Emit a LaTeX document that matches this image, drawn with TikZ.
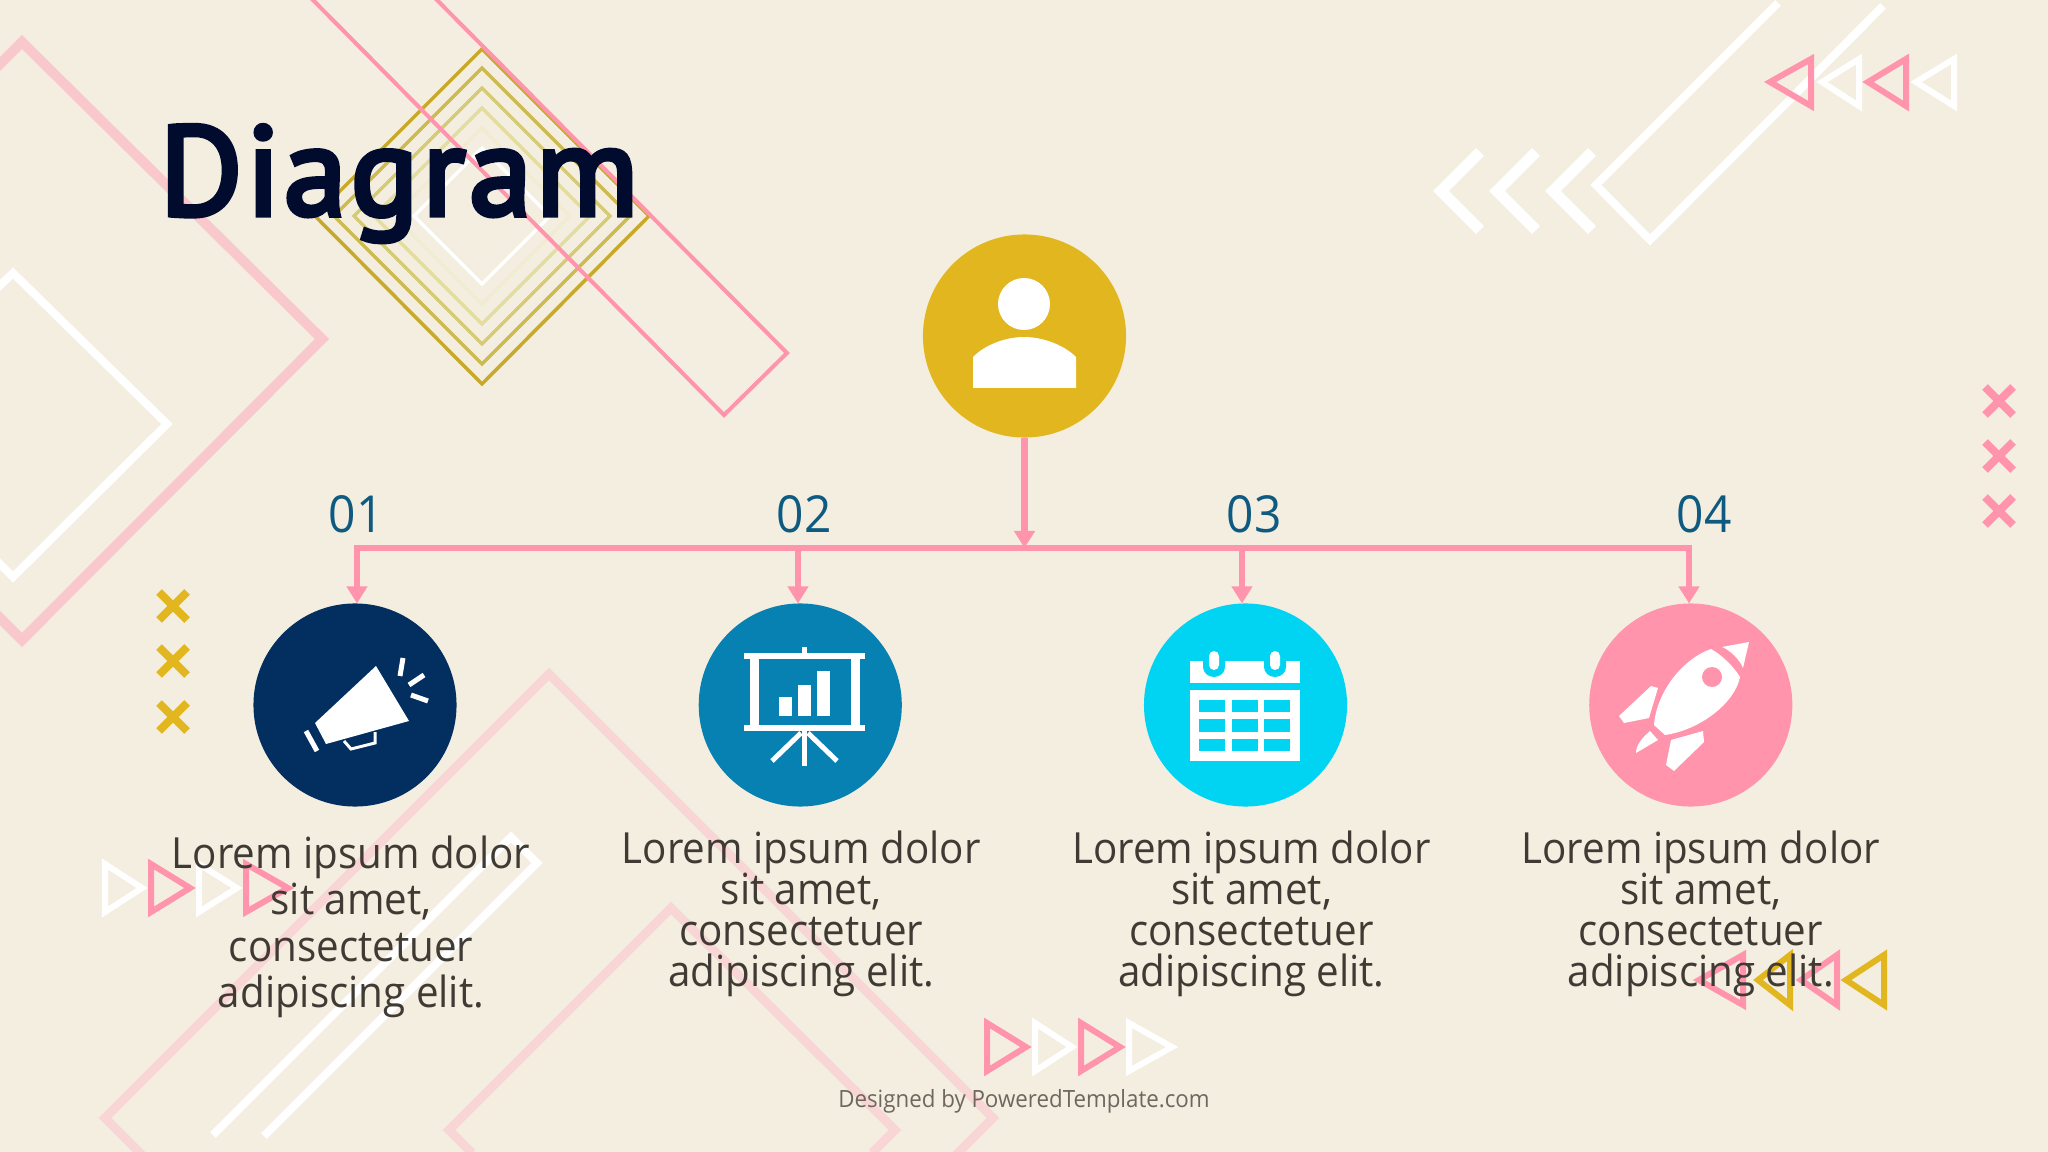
\documentclass[tikz,border=0pt]{standalone}
\usepackage{fontspec}
\setmainfont[FakeStretch=0.94]{Open Sans}
\newfontfamily\titlefont[FakeBold=4,LetterSpace=3]{PT Sans}
\usetikzlibrary{arrows.meta,positioning}
\definecolor{bgcolor}{HTML}{F4EEE0}
\definecolor{mypink}{HTML}{FF94AC}
\definecolor{softpink}{HTML}{F9C8CC}
\definecolor{palepink}{HTML}{F9D6D6}
\definecolor{mygold}{HTML}{E2B61E}
\definecolor{goldone}{HTML}{C8A92A}
\definecolor{goldtwo}{HTML}{CDBA50}
\definecolor{goldthree}{HTML}{D6CB75}
\definecolor{goldfour}{HTML}{E3DD9F}
\definecolor{goldfive}{HTML}{F0EBD2}
\definecolor{navycircle}{HTML}{022F5F}
\definecolor{bluecircle}{HTML}{0780B2}
\definecolor{cyancircle}{HTML}{00D4F2}
\definecolor{titlecolor}{HTML}{000B2E}
\definecolor{textcolor}{HTML}{403A35}
\definecolor{numcolor}{HTML}{0E5A80}
\definecolor{footcolor}{HTML}{6E675F}

\begin{document}
\begin{tikzpicture}[x=0.01cm, y=-0.01cm]
        \tikzset{
            mycircle/.style={circle, minimum size=2.03cm, inner sep=0pt, outer sep=0pt},
            myline/.style={draw=mypink, line width=0.065cm},
            myarrow/.style={->, >={Triangle[length=0.17cm, width=0.2cm]}, draw=mypink, fill=mypink, line width=0.065cm},
            mylabel/.style={inner sep=0pt, text=numcolor, font=\fontsize{14.5}{16}\selectfont},
            mytext/.style={inner sep=0pt, align=center, text=textcolor, font=\fontsize{12.2}{11.6}\selectfont\lineskiplimit -20pt},
            mytextwide/.style={mytext, font=\fontsize{12.2}{13.1}\selectfont\lineskiplimit -20pt},
            softline/.style={draw=softpink, line width=0.1cm, miter limit=10},
            paleline/.style={draw=palepink, line width=0.09cm, miter limit=10},
            whiteline/.style={draw=white, line width=0.08cm, miter limit=10},
            thinpink/.style={draw=mypink, line width=0.04cm, miter limit=10},
            goldline/.style={line width=0.035cm, miter limit=10},
            chevron/.style={draw=white, line width=0.11cm, miter limit=10},
            pinktri/.style={draw=mypink, line width=0.06cm, miter limit=10},
            whitetri/.style={draw=white, line width=0.06cm, miter limit=10},
            goldtri/.style={draw=mygold, line width=0.06cm, miter limit=10},
            crossmark/.style={line width=0.08cm},
            iconline/.style={draw=white, line width=0.05cm}
        }
        \path[use as bounding box, clip] (0,0) rectangle (2048,1152);
        \fill[bgcolor] (0,0) rectangle (2048,1152);

        % big shapes behind
        \draw[softline] (-20,84) -- (22,42) -- (322,339) -- (22,640) -- (-20,598);
        \draw[whiteline] (-10,295) -- (13,273) -- (167,424) -- (13,577) -- (-10,554);
        \draw[paleline] (150,1163) -- (105,1118) -- (549,674) -- (993,1118) -- (948,1163);
        \draw[paleline] (472,1153) -- (449,1130) -- (671,908) -- (895,1130) -- (872,1153);
        \draw[whiteline] (213,1135) -- (511,837) -- (537,863) -- (264,1136);
        \draw[whiteline] (1778,3) -- (1596,185) -- (1650,240) -- (1883,6);

        % gold diamonds
        \draw[goldline, draw=white] (482,148) -- (550,216) -- (482,284) -- (414,216) -- cycle;
        \draw[goldline, draw=goldfive] (482,128) -- (570,216) -- (482,304) -- (394,216) -- cycle;
        \draw[goldline, draw=goldfour] (482,108) -- (590,216) -- (482,324) -- (374,216) -- cycle;
        \draw[goldline, draw=goldthree] (482,88) -- (610,216) -- (482,344) -- (354,216) -- cycle;
        \draw[goldline, draw=goldtwo] (482,68) -- (630,216) -- (482,364) -- (334,216) -- cycle;
        \draw[goldline, draw=goldone] (482,49) -- (649,216) -- (482,384) -- (315,216) -- cycle;
        \draw[thinpink] (310,-3) -- (724,415) -- (787,353) -- (434,-3);

        % chevrons, triangles and crosses
        \draw[chevron] (1480,152) -- (1441,191) -- (1480,230);
        \draw[chevron] (1536,152) -- (1497,191) -- (1536,230);
        \draw[chevron] (1592,152) -- (1553,191) -- (1592,230);

        \draw[pinktri] (1811,59) -- (1770,82) -- (1811,106) -- cycle;
        \draw[whitetri] (1859,59) -- (1822,82) -- (1859,106) -- cycle;
        \draw[pinktri] (1906,59) -- (1868,82) -- (1906,106) -- cycle;
        \draw[whitetri] (1954,59) -- (1916,82) -- (1954,106) -- cycle;

        \draw[whitetri] (105,864) -- (142,888) -- (105,912) -- cycle;
        \draw[pinktri] (151,864) -- (190,888) -- (151,912) -- cycle;
        \draw[whitetri] (199,864) -- (237,888) -- (199,912) -- cycle;
        \draw[pinktri] (246,864) -- (288,888) -- (246,912) -- cycle;

        \draw[pinktri] (987,1023) -- (1026,1047) -- (987,1071) -- cycle;
        \draw[whitetri] (1035,1023) -- (1072,1047) -- (1035,1071) -- cycle;
        \draw[pinktri] (1081,1023) -- (1120,1047) -- (1081,1071) -- cycle;
        \draw[whitetri] (1129,1023) -- (1172,1047) -- (1129,1071) -- cycle;

        \draw[pinktri] (1743,955) -- (1699,980) -- (1743,1005) -- cycle;
        \draw[goldtri] (1790,955) -- (1758,980) -- (1790,1005) -- cycle;
        \draw[pinktri] (1837,955) -- (1801,980) -- (1837,1005) -- cycle;
        \draw[goldtri] (1884,955) -- (1846,980) -- (1884,1005) -- cycle;

        \draw[crossmark, mypink] (1985,387) -- (2013,415) (2013,387) -- (1985,415);
        \draw[crossmark, mypink] (1985,442) -- (2013,470) (2013,442) -- (1985,470);
        \draw[crossmark, mypink] (1985,497) -- (2013,525) (2013,497) -- (1985,525);
        \draw[crossmark, mygold] (159,592) -- (187,620) (187,592) -- (159,620);
        \draw[crossmark, mygold] (159,647) -- (187,675) (187,647) -- (159,675);
        \draw[crossmark, mygold] (159,703) -- (187,731) (187,703) -- (159,731);

        % circles
        \node[mycircle, fill=mygold] (circle-user) at (1024.5,336) {};
        \node[mycircle, fill=navycircle] (circle-one) at (355,705) {};
        \node[mycircle, fill=bluecircle, right=2.42cm of circle-one] (circle-two) {};
        \node[mycircle, fill=cyancircle, right=2.42cm of circle-two] (circle-three) {};
        \node[mycircle, fill=mypink, right=2.42cm of circle-three] (circle-four) {};

        % bus
        \coordinate (bus-center) at (1024.5,548);
        \coordinate (bus-one) at (357,548);
        \coordinate (bus-two) at (798,548);
        \coordinate (bus-three) at (1242,548);
        \coordinate (bus-four) at (1689,548);
        \draw[myline] ([xshift=-0.03cm]bus-one) -- ([xshift=0.03cm]bus-four);
        \draw[myarrow] (circle-user.south) -- (bus-center);
        \draw[myarrow] (bus-one) -- (bus-one |- circle-one.north);
        \draw[myarrow] (bus-two) -- (bus-two |- circle-two.north);
        \draw[myarrow] (bus-three) -- (bus-three |- circle-three.north);
        \draw[myarrow] (bus-four) -- (bus-four |- circle-four.north);

        % numbers
        \node[mylabel, above=0.14cm of bus-one, xshift=-0.01cm] (num-one) {01};
        \node[mylabel, above=0.14cm of bus-two, xshift=0.06cm] (num-two) {02};
        \node[mylabel, above=0.14cm of bus-three, xshift=0.12cm] (num-three) {03};
        \node[mylabel, above=0.14cm of bus-four, xshift=0.15cm] (num-four) {04};

        % icon user
        \fill[white] (1024,304) circle (26);
        \fill[white] (973,388) -- (973,357) .. controls (985,345) and (1005,337) .. (1024,337) .. controls (1043,337) and (1064,345) .. (1076,357) -- (1076,388) -- cycle;

        % icon megaphone
        \fill[white] (376,666) -- (409,721) -- (326,744) -- (315,723) -- cycle;
        \draw[iconline, line width=0.03cm] (344,741) -- (351,749) -- (375,743) -- (375,732);
        \draw[iconline] (306,731) -- (317,751);
        \draw[iconline] (403,658) -- (400,676);
        \draw[iconline] (424,675) -- (409,685);
        \draw[iconline] (411,695) -- (428,701);

        % icon screen
        \draw[iconline, line width=0.065cm] (744,656) -- (865,656);
        \draw[iconline, line width=0.065cm] (744,728) -- (865,728);
        \draw[iconline, line width=0.09cm] (754,656) -- (754,728);
        \draw[iconline, line width=0.09cm] (855,656) -- (855,728);
        \fill[white] (779,697) rectangle (792,716);
        \fill[white] (798,685) rectangle (811,716);
        \fill[white] (817,671) rectangle (830,716);
        \draw[iconline] (804,647) -- (804,656);
        \draw[iconline] (804,728) -- (804,766);
        \draw[iconline] (801,733) -- (772,761);
        \draw[iconline] (808,733) -- (837,761);

        % icon calendar
        \fill[white] (1190,661) rectangle (1300,683);
        \fill[white] (1190,690) rectangle (1300,761);
        \fill[cyancircle] (1199,700) rectangle (1225,712);
        \fill[cyancircle] (1232,700) rectangle (1258,712);
        \fill[cyancircle] (1264,700) rectangle (1290,712);
        \fill[cyancircle] (1199,719) rectangle (1225,732);
        \fill[cyancircle] (1232,719) rectangle (1258,732);
        \fill[cyancircle] (1264,719) rectangle (1290,732);
        \fill[cyancircle] (1199,739) rectangle (1225,751);
        \fill[cyancircle] (1232,739) rectangle (1258,751);
        \fill[cyancircle] (1264,739) rectangle (1290,751);
        \fill[cyancircle] (1203,661) -- (1203,667) arc (180:0:11 and 10) -- (1225,661) -- cycle;
        \fill[cyancircle] (1264,661) -- (1264,667) arc (180:0:11 and 10) -- (1286,661) -- cycle;
        \fill[white, rounded corners=0.05cm] (1209,651) rectangle (1219,670);
        \fill[white, rounded corners=0.05cm] (1270,651) rectangle (1280,670);

        % icon rocket
        \fill[white] (1722,647) -- (1749,642) -- (1743,668) .. controls (1740,660) and (1730,650) .. cycle;
        \fill[white] (1711,649) .. controls (1722,655) and (1734,667) .. (1740,677) .. controls (1735,703) and (1700,730) .. (1665,735) -- (1654,725) .. controls (1656,695) and (1680,660) .. cycle;
        \fill[mypink] (1712,677) circle (10);
        \fill[white] (1651,686) -- (1658,688) -- (1649,718) -- (1624,723) -- (1619,716) -- cycle;
        \fill[white] (1703,731) -- (1704,742) -- (1674,771) -- (1666,765) -- (1671,740) -- cycle;
        \fill[white] (1650,731) -- (1658,740) -- (1636,753) .. controls (1636,745) and (1642,738) .. cycle;

        % texts
        \node[mytextwide, below=0.29cm of circle-one, xshift=-0.04cm] (text-one) {Lorem ipsum dolor\\sit amet,\\consectetuer\\adipiscing elit.};
        \node[mytext, below=0.24cm of circle-two, xshift=0.01cm] (text-two) {Lorem ipsum dolor\\sit amet,\\consectetuer\\adipiscing elit.};
        \node[mytext, below=0.24cm of circle-three, xshift=0.06cm] (text-three) {Lorem ipsum dolor\\sit amet,\\consectetuer\\adipiscing elit.};
        \node[mytext, below=0.24cm of circle-four, xshift=0.1cm] (text-four) {Lorem ipsum dolor\\sit amet,\\consectetuer\\adipiscing elit.};
        \node[inner sep=0pt, text=titlecolor, font=\titlefont\fontsize{36}{40}\selectfont, anchor=base west] (title) at (159,215) {Diagram};
        \node[inner sep=0pt, text=footcolor, font=\fontsize{6.75}{8}\selectfont] (footer) at (1024,1101) {Designed by PoweredTemplate.com};
\end{tikzpicture}
\end{document}
